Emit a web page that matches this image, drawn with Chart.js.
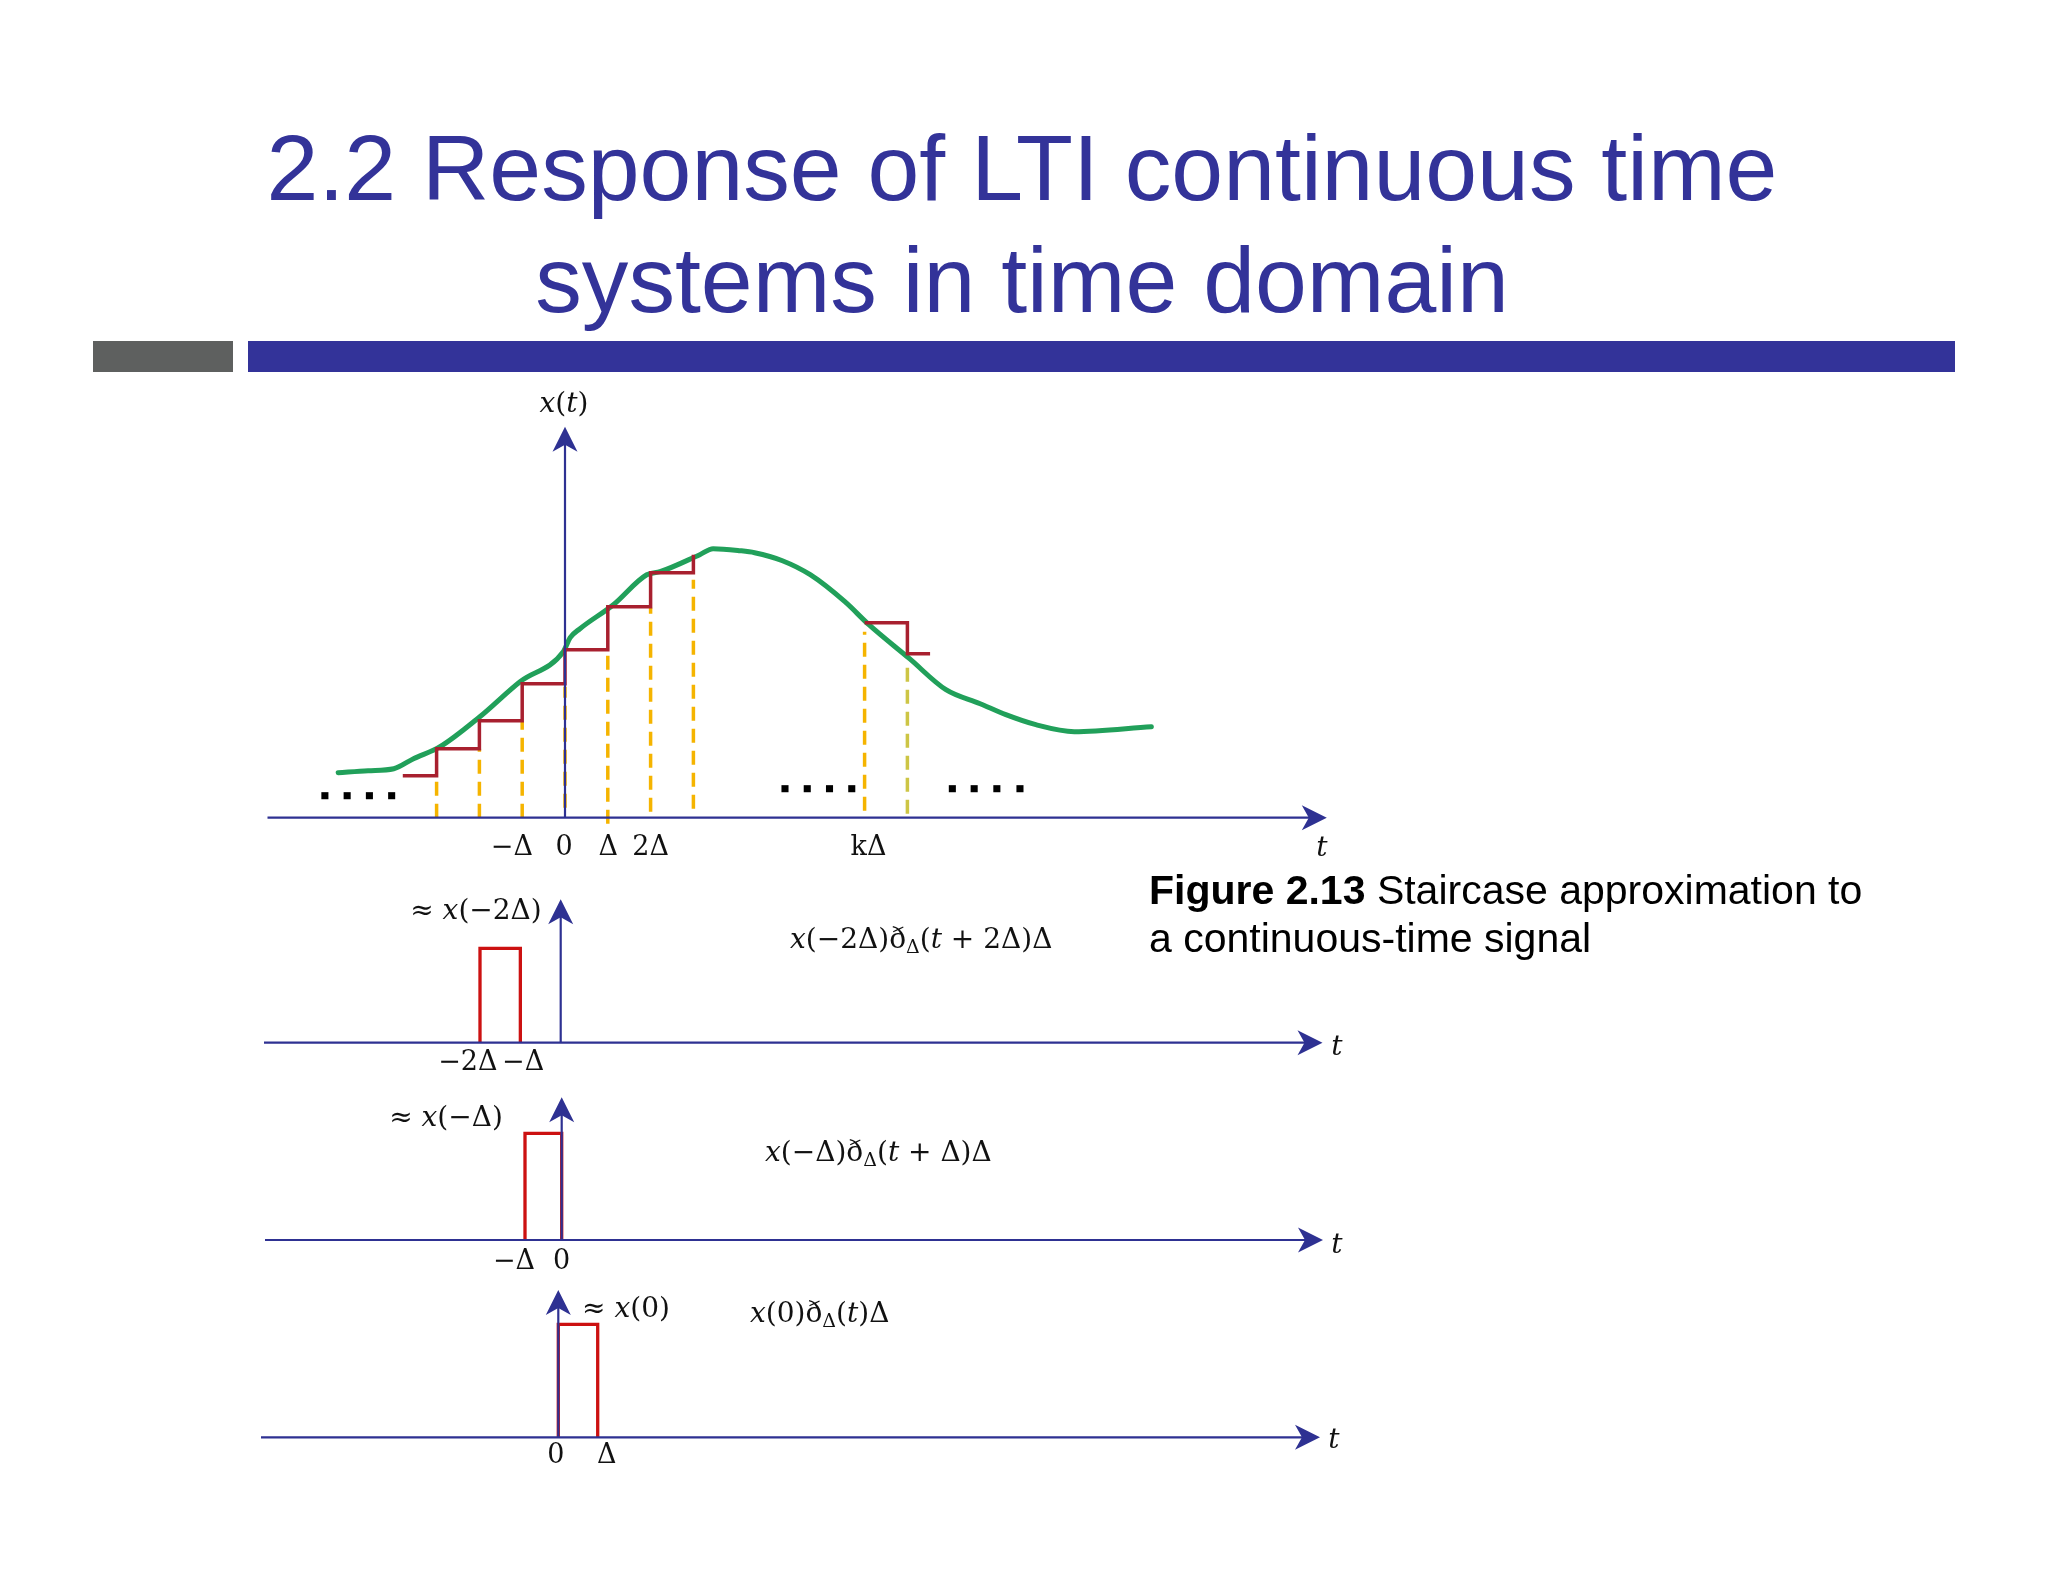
<!DOCTYPE html>
<html>
<head>
<meta charset="utf-8">
<script src="https://cdn.jsdelivr.net/npm/chart.js@4.4.1/dist/chart.umd.min.js"></script>
<style>
  html, body { margin:0; padding:0; background:#fff; width:2048px; height:1582px; overflow:hidden; }
  canvas { position:absolute; left:0; top:0; }
  .title { position:absolute; left:0; width:2044px; text-align:center; font-family:"Liberation Sans", Arial, sans-serif;
           font-size:93.2px; line-height:111.6px; color:#333399; white-space:nowrap; }
  .bar { position:absolute; }
  .m { position:absolute; font-family:"DejaVu Serif", serif; font-size:28px; line-height:1; color:#111; white-space:nowrap; }
  .c { transform:translate(-50%,-50%); }
  .l { transform:translate(0,-50%); }
  .m sub { font-size:68%; vertical-align:-0.28em; line-height:0; }
  .cap { position:absolute; left:1149px; font-family:"Liberation Sans", Arial, sans-serif; font-size:41px; line-height:48.6px; color:#000; white-space:nowrap; }
</style>
</head>
<body>
<div class="title" style="top:113.3px">2.2 Response of LTI continuous time</div>
<div class="title" style="top:224.9px">systems in time domain</div>
<div class="bar" style="left:92.7px;top:340.7px;width:140px;height:31.6px;background:#5e605f"></div>
<div class="bar" style="left:248.3px;top:340.7px;width:1706.7px;height:31.6px;background:#333399"></div>

<canvas id="c0" width="2048" height="1582"></canvas>
<canvas id="c1" width="2048" height="1582"></canvas>
<canvas id="c2" width="2048" height="1582"></canvas>
<canvas id="c3" width="2048" height="1582"></canvas>

<div class="m c" style="left:564px;top:403px"><i>x</i>(<i>t</i>)</div>
<div class="m c" style="left:1322px;top:846.5px"><i>t</i></div>

<div class="m c" style="left:476px;top:910px">≈ <i>x</i>(−2Δ)</div>
<div class="m l" style="left:790px;top:939px"><i>x</i>(−2Δ)ð<sub>Δ</sub>(<i>t</i> + 2Δ)Δ</div>
<div class="m c" style="left:1337px;top:1046px"><i>t</i></div>

<div class="m c" style="left:446px;top:1117px">≈ <i>x</i>(−Δ)</div>
<div class="m l" style="left:765px;top:1152px"><i>x</i>(−Δ)ð<sub>Δ</sub>(<i>t</i> + Δ)Δ</div>
<div class="m c" style="left:1337px;top:1243.5px"><i>t</i></div>

<div class="m c" style="left:626px;top:1308px">≈ <i>x</i>(0)</div>
<div class="m l" style="left:750px;top:1313px"><i>x</i>(0)ð<sub>Δ</sub>(<i>t</i>)Δ</div>
<div class="m c" style="left:1334px;top:1439px"><i>t</i></div>

<div class="cap" style="top:865.8px"><b>Figure 2.13</b> Staircase approximation to</div>
<div class="cap" style="top:914.4px">a continuous-time signal</div>

<script>
// ---------- DATA (t in units of Δ, amplitude in arbitrary units) ----------
// continuous signal x(t)
const greenT = [-5.3, -4.6, -4.0, -3.54, -2.92, -1.99, -1.05, -0.04, 0.12, 0.35, 1.13, 1.91, 2.22, 3.15, 3.46, 4.09, 4.43, 5.08, 5.73, 6.54, 7.1, 8.05, 8.9, 9.7, 10.3, 11.0, 11.9, 13.7];
const greenV = [0.45, 0.47, 0.49, 0.59, 0.71, 1.01, 1.36, 1.66, 1.80, 1.89, 2.13, 2.43, 2.46, 2.63, 2.69, 2.67, 2.65, 2.57, 2.43, 2.16, 1.93, 1.59, 1.28, 1.14, 1.03, 0.93, 0.86, 0.91];
// staircase approximation: level x(kΔ) held from each step start
const stairT = [-3.79, -3, -2, -1, 0, 1, 2, 3];
const stairV = [0.42, 0.69, 0.97, 1.34, 1.68, 2.11, 2.45, 2.63];
const kStairT = [7, 8, 8.53];
const kStairV = [1.95, 1.64, 1.64];
// dashed sample lines
const dashT = [-3, -2, -1, 0, 1, 2, 3, 7, 8];
const dashTop = [0.43, 0.69, 0.96, 1.31, 1.68, 2.10, 2.38, 1.86, 1.54];
const dashBottom = [0, 0, 0, 0.10, -0.06, 0.06, 0.09, 0.07, 0.04];
// "...." dots
const dotsT = [-5.61, -5.09, -4.57, -4.05, 5.14, 5.66, 6.18, 6.70, 9.05, 9.56, 10.09, 10.63];
const dotsV = [0.22, 0.22, 0.22, 0.22, 0.29, 0.29, 0.29, 0.29, 0.29, 0.29, 0.29, 0.29];
// tick labels (positions in Δ units as placed in the figure)
const topTicks = [-1.24, -0.02, 1.01, 2.0, 7.09];
const topTickLabels = ['−Δ', '0', 'Δ', '2Δ', 'kΔ'];
// pulses x(kΔ)·δΔ(t − kΔ)·Δ for the three lower panels
const pulseStart = [-2, -1, 0];
const pulseEnd = [-1, 0, 1];
const pulseHeight = [0.944, 1.067, 1.13];
const pulseTicks = [[-2.3, -0.93], [-1.3, 0], [-0.06, 1.23]];
const pulseTickLabels = [['−2Δ', '−Δ'], ['−Δ', '0'], ['0', 'Δ']];

// ---------- LAYOUT / STYLE ----------
const W = 2048, H = 1582, XH = 60, UNIT = 100;
const AXIS = '#2e3192';
const geoTop = { zero: 565, delta: 42.8, left: 267.5, right: 1326.8, axis: 817.7, top: 426.7, pad: 14.1 };
const geoPulse = [
  { zero: 560.7, delta: 40.35, left: 264, right: 1322.5, axis: 1042.7, top: 899.3, pad: 3.8 },
  { zero: 561.7, delta: 36.7,  left: 265, right: 1323,   axis: 1240,   top: 1097.3, pad: 5.5 },
  { zero: 558.3, delta: 39.4,  left: 261, right: 1320,   axis: 1437.3, top: 1290, pad: 2.5 }
];

Chart.defaults.font.family = '"DejaVu Serif", serif';

function arrowHead(ctx, tx, ty, ang) {
  ctx.save();
  ctx.translate(tx, ty);
  ctx.rotate(ang);
  ctx.beginPath();
  ctx.moveTo(0, 0);
  ctx.lineTo(-25, -12.5);
  ctx.lineTo(-18, 0);
  ctx.lineTo(-25, 12.5);
  ctx.closePath();
  ctx.fill();
  ctx.restore();
}

const axesPlugin = {
  id: 'arrowAxes',
  afterDatasetsDraw(chart) {
    const { ctx, chartArea: a, scales: { x, y } } = chart;
    const y0 = y.getPixelForValue(0), x0 = x.getPixelForValue(0);
    ctx.save();
    ctx.strokeStyle = AXIS;
    ctx.fillStyle = AXIS;
    ctx.lineWidth = 2.2;
    ctx.beginPath();
    ctx.moveTo(a.left, y0);
    ctx.lineTo(a.right - 15, y0);
    ctx.stroke();
    arrowHead(ctx, a.right, y0, 0);
    ctx.beginPath();
    ctx.moveTo(x0, y0);
    ctx.lineTo(x0, a.top + 15);
    ctx.stroke();
    arrowHead(ctx, x0, a.top, -Math.PI / 2);
    ctx.restore();
  }
};

function makeChart(id, geo, datasets, tickVals, tickLabels) {
  return new Chart(document.getElementById(id), {
    type: 'line',
    data: { datasets },
    options: {
      responsive: false,
      animation: false,
      devicePixelRatio: 1,
      events: [],
      layout: { autoPadding: false, padding: { left: geo.left, right: W - geo.right, top: geo.top, bottom: H - geo.axis - XH } },
      elements: { point: { radius: 0 }, line: { tension: 0 } },
      plugins: { legend: { display: false }, tooltip: { enabled: false } },
      scales: {
        x: {
          type: 'linear',
          min: (geo.left - geo.zero) / geo.delta,
          max: (geo.right - geo.zero) / geo.delta,
          grid: { display: false, drawTicks: false },
          border: { display: false },
          afterBuildTicks: s => { s.ticks = tickVals.map(v => ({ value: v })); },
          afterFit: s => { s.height = XH; },
          ticks: {
            autoSkip: false, maxRotation: 0, padding: geo.pad, color: '#111',
            font: { size: 27, family: '"DejaVu Serif", serif' },
            callback: (v, i) => tickLabels[i]
          }
        },
        y: { type: 'linear', display: false, min: 0, max: (geo.axis - geo.top) / UNIT }
      }
    },
    plugins: [axesPlugin]
  });
}

// ---------- top chart ----------
const topSets = [];
topSets.push({
  data: dotsT.map((t, i) => ({ x: t, y: dotsV[i] })),
  showLine: false, pointStyle: 'rect', pointRadius: 5, backgroundColor: '#000', borderWidth: 0, order: 1, clip: false
});
topSets.push({
  data: stairT.map((t, i) => ({ x: t, y: stairV[i] })),
  stepped: 'before', borderColor: '#a8202f', borderWidth: 3.5, order: 2, clip: false
});
topSets.push({
  data: kStairT.map((t, i) => ({ x: t, y: kStairV[i] })),
  stepped: 'before', borderColor: '#a8202f', borderWidth: 3.5, order: 2, clip: false
});
topSets.push({
  data: greenT.map((t, i) => ({ x: t, y: greenV[i] })),
  borderColor: '#21a05a', borderWidth: 5, cubicInterpolationMode: 'monotone',
  borderJoinStyle: 'round', borderCapStyle: 'round', order: 3, clip: false
});
dashT.forEach((t, i) => {
  topSets.push({
    data: [{ x: t, y: dashBottom[i] }, { x: t, y: dashTop[i] }],
    borderColor: i === dashT.length - 1 ? '#cdc545' : '#f5b400',
    borderWidth: 3.5, borderDash: [14, 8], order: 4, clip: false
  });
});
makeChart('c0', geoTop, topSets, topTicks, topTickLabels);

// ---------- pulse panels ----------
pulseStart.forEach((s, k) => {
  const e = pulseEnd[k], h = pulseHeight[k];
  makeChart('c' + (k + 1), geoPulse[k], [{
    data: [{ x: s, y: 0 }, { x: s, y: h }, { x: e, y: h }, { x: e, y: 0 }],
    borderColor: '#cc1111', borderWidth: 3.3, borderJoinStyle: 'miter', clip: false
  }], pulseTicks[k], pulseTickLabels[k]);
});
</script>
</body>
</html>
